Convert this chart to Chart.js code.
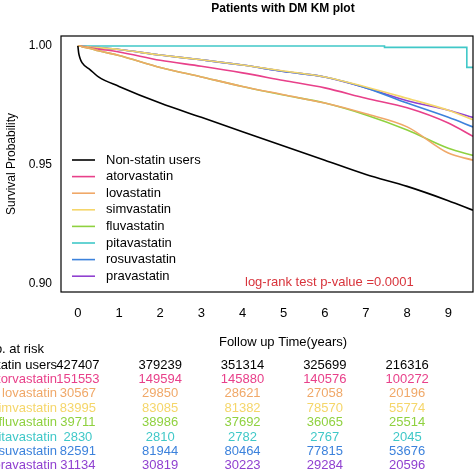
<!DOCTYPE html>
<html>
<head>
<script src="https://cdn.jsdelivr.net/npm/chart.js@4"></script>
<style>body{margin:0;background:#fff}#wrap{width:474px;height:474px}</style>
</head>
<body>
<div id="wrap"><canvas id="kmChart" width="474" height="474"></canvas></div>
<script>
var groups = ["Non-statin users", "atorvastatin", "lovastatin", "simvastatin", "fluvastatin", "pitavastatin", "rosuvastatin", "pravastatin"];
var colors = ["#000000", "#e8408a", "#f0a868", "#f5d66a", "#8fd13f", "#40c8c8", "#3c82dc", "#9040d0"];

var years = [0, 0.02, 0.05, 0.1, 0.3, 0.5, 1, 2, 3, 4, 5, 6, 7, 8, 9, 9.6];
var nonstatin = [1, 0.997, 0.995, 0.993, 0.990, 0.987, 0.983, 0.976, 0.970, 0.964, 0.958, 0.952, 0.946, 0.941, 0.935, 0.931];
var atorva = [1, 1, 1, 0.9998, 0.9992, 0.9987, 0.9975, 0.994, 0.9915, 0.9887, 0.9855, 0.9824, 0.978, 0.974, 0.9676, 0.962];
var lova = [1, 1, 1, 0.9997, 0.999, 0.998, 0.996, 0.991, 0.987, 0.983, 0.9795, 0.976, 0.9715, 0.966, 0.955, 0.952];
var simva = [1, 1, 1, 0.9999, 0.9996, 0.9993, 0.9985, 0.9962, 0.9942, 0.992, 0.9895, 0.987, 0.9828, 0.978, 0.973, 0.969];
var fluva = [1, 1, 1, 0.9997, 0.999, 0.998, 0.996, 0.991, 0.987, 0.983, 0.9794, 0.976, 0.971, 0.9647, 0.957, 0.954];
var rosuva = [1, 1, 1, 0.9999, 0.9996, 0.9993, 0.9985, 0.9962, 0.9942, 0.992, 0.9893, 0.987, 0.9824, 0.976, 0.970, 0.966];
var prava = [1, 1, 1, 0.9999, 0.9996, 0.9993, 0.9985, 0.9962, 0.9942, 0.992, 0.9893, 0.987, 0.9824, 0.977, 0.973, 0.970];
var pitaYears = [0, 7.45, 9.45, 9.6];
var pita = [1, 0.9994, 0.991, 0.991];

var riskYears = [0, 2, 4, 6, 8];
var risk = [
  [427407, 379239, 351314, 325699, 216316],
  [151553, 149594, 145880, 140576, 100272],
  [30567, 29850, 28621, 27058, 20196],
  [83995, 83085, 81382, 78570, 55774],
  [39711, 38986, 37692, 36065, 25514],
  [2830, 2810, 2782, 2767, 2045],
  [82591, 81944, 80464, 77815, 53676],
  [31134, 30819, 30223, 29284, 20596]
];

var curves = [nonstatin, atorva, lova, simva, fluva, pita, rosuva, prava];
// draw order: black first, then others; purple & blue on top
var order = [0, 2, 4, 1, 3, 6, 7, 5];

function pts(xs, ys) {
  return xs.map(function (x, i) { return {x: x, y: ys[i]}; });
}

var datasets = order.map(function (g) {
  return {
    label: groups[g],
    data: g == 5 ? pts(pitaYears, pita) : pts(years, curves[g]),
    borderColor: colors[g],
    borderWidth: 1.6,
    pointRadius: 0,
    cubicInterpolationMode: 'monotone',
    stepped: g == 5 ? 'before' : false,
    fill: false
  };
});

var font = '13px "Liberation Sans", Arial';

var extras = {
  id: 'extras',
  afterDraw: function (chart) {
    var c = chart.ctx, a = chart.chartArea, xs = chart.scales.x;
    c.save();
    c.strokeStyle = '#000'; c.lineWidth = 1.2;
    c.strokeRect(a.left, a.top, a.right - a.left, a.bottom - a.top);
    c.fillStyle = '#000';
    c.font = 'bold 12px "Liberation Sans", Arial';
    c.textAlign = 'center'; c.textBaseline = 'middle';
    c.fillText('Patients with DM KM plot', 283, 9);
    // legend
    c.font = font;
    c.textAlign = 'left';
    for (var i = 0; i < groups.length; i++) {
      var y = 160 + i * 16.6;
      c.strokeStyle = colors[i]; c.lineWidth = 1.6;
      c.beginPath(); c.moveTo(72, y); c.lineTo(95, y); c.stroke();
      c.fillStyle = '#000';
      c.fillText(groups[i], 106, y);
    }
    c.fillStyle = '#d8343c';
    c.fillText('log-rank test p-value =0.0001', 245, 282);
    // x title
    c.fillStyle = '#000'; c.textAlign = 'center';
    c.fillText('Follow up Time(years)', 283, 342);
    // risk table
    c.textAlign = 'right';
    c.fillText('No. at risk', 44, 349);
    for (var r = 0; r < groups.length; r++) {
      var ry = 365 + r * 14.4;
      c.fillStyle = colors[r];
      c.textAlign = 'right';
      c.fillText(groups[r], 57, ry);
      c.textAlign = 'center';
      for (var k = 0; k < riskYears.length; k++) {
        c.fillText(String(risk[r][k]), xs.getPixelForValue(riskYears[k]), ry);
      }
    }
    c.restore();
  }
};

new Chart(document.getElementById('kmChart'), {
  type: 'line',
  data: {datasets: datasets},
  plugins: [extras],
  options: {
    responsive: false,
    animation: false,
    layout: {padding: {left: 0, right: 1, top: 36, bottom: 142}},
    plugins: {legend: {display: false}, tooltip: {enabled: false}},
    scales: {
      x: {
        type: 'linear', min: -0.41, max: 9.6,
        afterFit: function (s) { s.height = 40; },
        afterBuildTicks: function (s) {
          s.ticks = [0,1,2,3,4,5,6,7,8,9].map(function (v) { return {value: v}; });
        },
        grid: {display: false, drawOnChartArea: false, drawTicks: true, tickLength: 6, tickColor: '#000'},
        border: {display: false},
        ticks: {color: '#000', font: {size: 13, family: '"Liberation Sans", Arial'}, padding: 8, maxRotation: 0}
      },
      y: {
        min: 0.8966, max: 1.0042,
        afterFit: function (s) { s.width = 61; },
        afterBuildTicks: function (s) {
          s.ticks = [0.90, 0.95, 1.00].map(function (v) { return {value: v}; });
        },
        grid: {display: false, drawOnChartArea: false, drawTicks: true, tickLength: 6, tickColor: '#000'},
        border: {display: false},
        title: {display: true, text: 'Survival Probability', color: '#000', font: {size: 12, family: '"Liberation Sans", Arial'}, padding: {top: 4, bottom: 0}},
        ticks: {color: '#000', font: {size: 12, family: '"Liberation Sans", Arial'}, padding: 3,
          callback: function (v) { return v.toFixed(2); }}
      }
    }
  }
});
</script>
</body>
</html>
